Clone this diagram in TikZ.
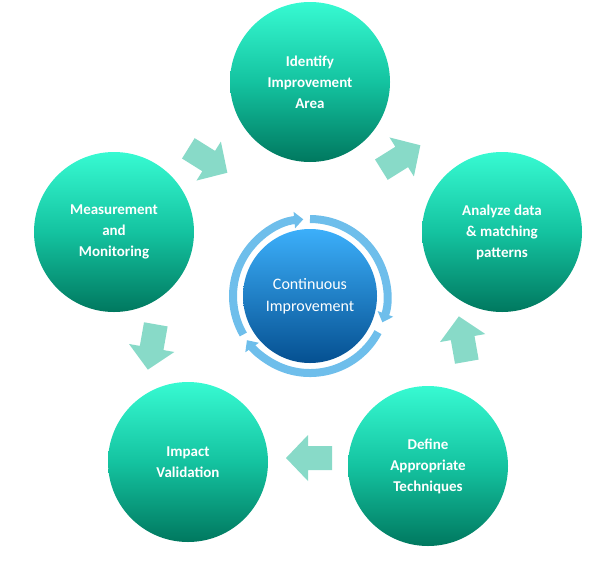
\documentclass[tikz,border=0pt]{standalone}
\usepackage{fontspec}
\setmainfont{Carlito}
\usetikzlibrary{arrows.meta}
\definecolor{tealtop}{RGB}{55,250,210}
\definecolor{tealmid}{RGB}{20,195,160}
\definecolor{tealbot}{RGB}{0,120,95}
\definecolor{blocky}{RGB}{136,218,200}
\definecolor{bluetop}{RGB}{60,175,250}
\definecolor{bluebot}{RGB}{5,80,145}
\definecolor{ringblue}{RGB}{110,190,235}
\tikzset{
    stage/.style={circle,minimum size=160pt,inner sep=0pt,align=center,
        top color=tealtop,bottom color=tealbot,middle color=tealmid,
        text=white,font=\fontsize{15}{21}\selectfont\bfseries},
    hubnode/.style={circle,minimum size=134pt,inner sep=0pt,align=center,
        top color=bluetop,bottom color=bluebot,
        text=white,font=\fontsize{16}{22}\selectfont},
    ring/.style={line width=8pt,ringblue,-{Triangle[length=9pt,width=16pt]}},
    pics/blockarrow/.style={code={
        \fill[blocky] (-22,-12) -- (2,-12) -- (2,-23) -- (24,0) -- (2,23) -- (2,12) -- (-22,12) -- cycle;}}
}
\begin{document}
\begin{tikzpicture}[x=1pt,y=-1pt]
\useasboundingbox (0,0) rectangle (609,562);

\node[stage] (ident) at (310,82) {Identify\\Improvement\\Area};
\node[stage] (analyze) at (502,232) {Analyze data\\\& matching\\patterns};
\node[stage] (define) at (428,466) {Define\\Appropriate\\Techniques};
\node[stage] (impact) at (188,462) {Impact\\Validation};
\node[stage] (measure) at (114,232) {Measurement\\and\\Monitoring};

\node[hubnode] (hub) at (310,296) {Continuous\\Improvement};

% ring around the hub
\draw[ring] ([shift={(150:77)}]hub.center) arc[start angle=150,end angle=265,radius=77];
\draw[ring] ([shift={(-90:77)}]hub.center) arc[start angle=-90,end angle=20,radius=77];
\draw[ring] ([shift={(28:77)}]hub.center) arc[start angle=28,end angle=145,radius=77];

% arrows between the steps
\pic[rotate=-32] at (207,160) {blockarrow};
\pic[rotate=32] at (400,158) {blockarrow};
\pic[rotate=100] at (463,340) {blockarrow};
\pic[rotate=180] at (310,458) {blockarrow};
\pic[rotate=-100] at (152,346) {blockarrow};
\end{tikzpicture}
\end{document}
